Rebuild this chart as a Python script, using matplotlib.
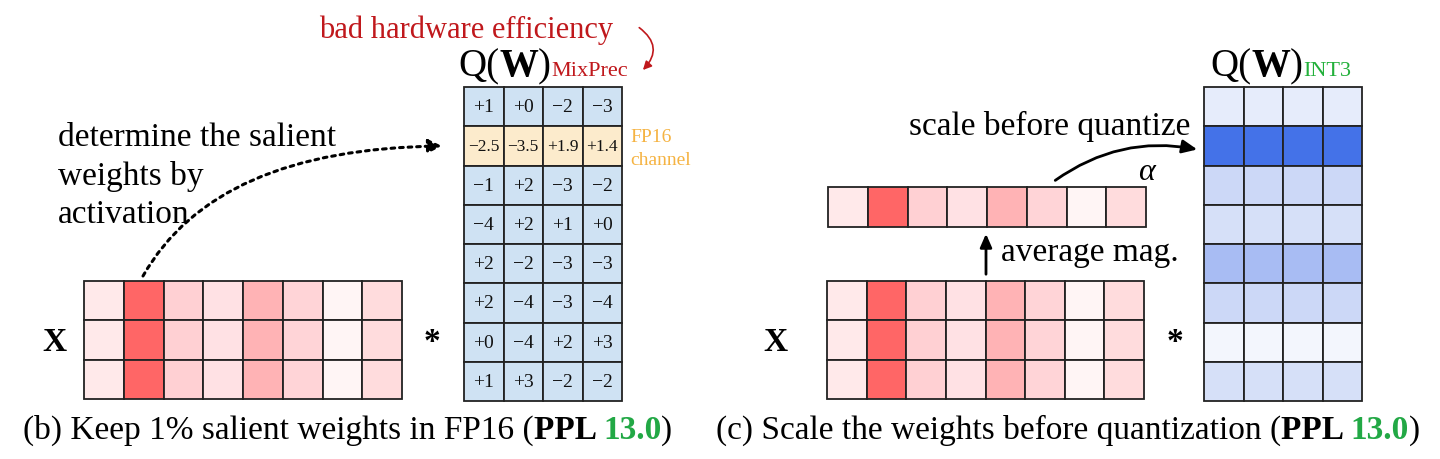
import matplotlib
matplotlib.use("Agg")
import matplotlib.pyplot as plt
from matplotlib.patches import Rectangle, FancyArrowPatch
from matplotlib.path import Path
import matplotlib.patches as mpatches

plt.rcParams['font.family'] = ['Liberation Serif', 'DejaVu Serif']

x_col_colors = ['#ffe9ea', '#ff6666', '#ffd0d3', '#ffe1e4', '#ffb3b5', '#ffd4d7', '#fff5f5', '#ffdcdd']
w_values = [['+1', '+0', '−2', '−3'],
            ['−2.5', '−3.5', '+1.9', '+1.4'],
            ['−1', '+2', '−3', '−2'],
            ['−4', '+2', '+1', '+0'],
            ['+2', '−2', '−3', '−3'],
            ['+2', '−4', '−3', '−4'],
            ['+0', '−4', '+2', '+3'],
            ['+1', '+3', '−2', '−2']]
w_row_colors_b = ['#cfe2f3', '#fcebcc', '#cfe2f3', '#cfe2f3', '#cfe2f3', '#cfe2f3', '#cfe2f3', '#cfe2f3']
w_row_colors_c = ['#e6ecfb', '#4472e8', '#ccd8f7', '#d6e0f8', '#a8bcf3', '#ccd8f7', '#f3f6fd', '#d6e0f8']

fig = plt.figure(figsize=(14.4, 4.6), dpi=100)
ax = fig.add_axes([0, 0, 1, 1])
ax.set_xlim(0, 1440)
ax.set_ylim(460, 0)
ax.axis('off')

def grid(x0, x1, y0, y1, colors, by_col=True, nrows=1, ncols=1, texts=None, lw=1.3):
    cw = (x1 - x0) / ncols
    rh = (y1 - y0) / nrows
    for r in range(nrows):
        for c in range(ncols):
            col = colors[c] if by_col else colors[r]
            ax.add_patch(Rectangle((x0 + c * cw, y0 + r * rh), cw, rh, facecolor=col,
                                   edgecolor='#222222', lw=lw))
            if texts is not None:
                t = texts[r][c]
                fs = 12.5 if len(t) > 2 else 14
                ax.text(x0 + (c + 0.5) * cw, y0 + (r + 0.5) * rh, t, ha='center', va='center',
                        fontsize=fs, color='#111111')

fig.canvas.draw()
renderer = fig.canvas.get_renderer()

def seq(x, y, pieces):
    inv = ax.transData.inverted()
    for s, kw in pieces:
        t = ax.text(x, y, s, ha='left', va='baseline', **kw)
        bb = t.get_window_extent(renderer=renderer)
        x = inv.transform((bb.x1, bb.y0))[0]
    return x

FS = 24
# ---------- panel (b) ----------
grid(84, 402, 282, 400, x_col_colors, True, 3, 8)
grid(464, 622, 88, 402, w_row_colors_b, False, 8, 4, texts=w_values)
ax.text(54, 343, 'X', fontsize=24, fontweight='bold', ha='center', va='center')
ax.text(432, 343, '*', fontsize=24, fontweight='bold', ha='center', va='center')
for i, line in enumerate(['determine the salient', 'weights by', 'activation']):
    ax.text(58, 138 + i * 38.5, line, fontsize=FS, ha='left', va='center')
ax.text(466, 30, 'bad hardware efficiency', fontsize=22, color='#c0181c', ha='center', va='center')
seq(458, 76, [('Q(', dict(fontsize=28)), ('W', dict(fontsize=28, fontweight='bold')),
              (')', dict(fontsize=28)), ('MixPrec', dict(fontsize=16, color='#c0181c'))])
ax.text(630, 138, 'FP16', fontsize=14, color='#f5b342', ha='left', va='center')
ax.text(630, 161, 'channel', fontsize=14, color='#f5b342', ha='left', va='center')
ax.add_patch(FancyArrowPatch((637, 27), (641, 73), connectionstyle='arc3,rad=-0.6',
                             arrowstyle='-|>,head_length=5,head_width=2.5', color='#c0181c', lw=1.2))
verts = [(143, 277), (215, 150), (442, 147)]
p = mpatches.FancyArrowPatch(path=Path(verts, [Path.MOVETO, Path.CURVE3, Path.CURVE3]),
                             arrowstyle='-|>,head_length=8,head_width=4', color='black',
                             lw=2.2, linestyle=(0, (1.2, 1.6)))
ax.add_patch(p)
seq(23, 439, [('(b) Keep 1% salient weights in FP16 (', dict(fontsize=FS)),
              ('PPL ', dict(fontsize=FS, fontweight='bold')),
              ('13.0', dict(fontsize=FS, fontweight='bold', color='#22a845')),
              (')', dict(fontsize=FS))])

# ---------- panel (c) ----------
grid(827, 1144, 282, 400, x_col_colors, True, 3, 8)
grid(828, 1146, 188, 228, x_col_colors, True, 1, 8)
grid(1204, 1362, 88, 402, w_row_colors_c, False, 8, 4)
ax.text(775, 343, 'X', fontsize=24, fontweight='bold', ha='center', va='center')
ax.text(1175, 343, '*', fontsize=24, fontweight='bold', ha='center', va='center')
seq(1210, 76, [('Q(', dict(fontsize=28)), ('W', dict(fontsize=28, fontweight='bold')),
               (')', dict(fontsize=28)), ('INT3', dict(fontsize=16, color='#22b03a'))])
ax.text(1050, 126, 'scale before quantize', fontsize=FS, ha='center', va='center')
ax.add_patch(FancyArrowPatch((1053, 183), (1200, 151), connectionstyle='arc3,rad=-0.22',
                             arrowstyle='-|>,head_length=9,head_width=4', color='black', lw=2))
ax.text(1146, 173, 'α', fontsize=23, style='italic', ha='center', va='center')
ax.add_patch(FancyArrowPatch((986, 278), (986, 232), arrowstyle='-|>,head_length=8,head_width=3.5',
                             color='black', lw=2))
ax.text(1001, 253, 'average mag.', fontsize=FS, ha='left', va='center')
seq(716, 439, [('(c) Scale the weights before quantization (', dict(fontsize=FS)),
               ('PPL ', dict(fontsize=FS, fontweight='bold')),
               ('13.0', dict(fontsize=FS, fontweight='bold', color='#22a845')),
               (')', dict(fontsize=FS))])

fig.savefig('out.png', dpi=100)
